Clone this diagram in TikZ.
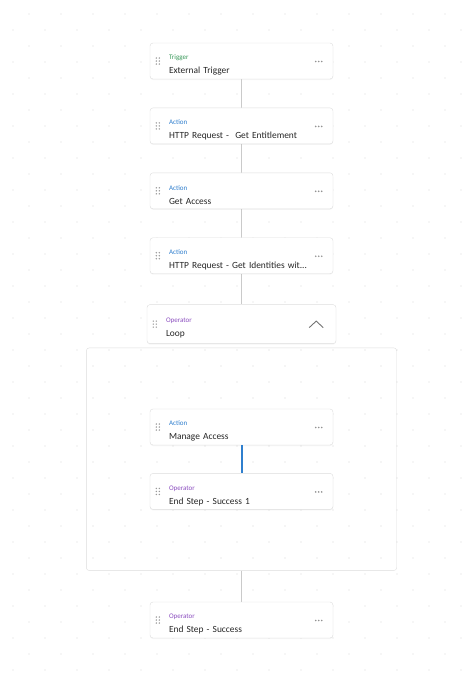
\documentclass[tikz,border=0pt]{standalone}
\usepackage{fontspec}
\setmainfont{Carlito}
\usetikzlibrary{positioning,fit,backgrounds,shadows}

\definecolor{trigcol}{HTML}{3A9A5B}
\definecolor{actcol}{HTML}{2F7FCE}
\definecolor{opcol}{HTML}{8C4FC0}
\definecolor{boxline}{HTML}{DDDDDD}
\definecolor{linkgray}{HTML}{CACACA}
\definecolor{griddot}{HTML}{D8D8D8}
\newcommand{\steptype}[2]{\rule{0pt}{13pt}{\fontsize{7}{7}\selectfont\color{#1}#2}}

\begin{document}
\begin{tikzpicture}[x=1pt, y=-1pt,
  stepbox/.style={draw=boxline, fill=white, rounded corners=3pt,
    minimum width=183pt, minimum height=36pt, text width=145pt,
    inner xsep=19pt, inner ysep=1pt, align=left,
    font=\fontsize{9.4}{14}\selectfont, text=black!85,
    drop shadow={shadow xshift=0pt, shadow yshift=-1pt, opacity=0.08}},
  link/.style={draw=linkgray, line width=1.6pt},
  activelink/.style={draw=actcol, line width=2pt},
]
\useasboundingbox (0,0) rectangle (463,678);

% dotted canvas
\foreach \r in {0,...,41}{
  \pgfmathsetmacro{\off}{mod(\r,2)==0 ? 29 : 13}
  \foreach \c in {0,...,14}
    \fill[griddot] (\off+32*\c, 14+16*\r) circle (0.7);
}

% steps
\node[stepbox] (trig) at (241.5,61)
  {\steptype{trigcol}{Trigger}\\External Trigger};
\node[stepbox, below=28.5pt of trig] (getent)
  {\steptype{actcol}{Action}\\HTTP Request - \ Get Entitlement};
\node[stepbox, below=28.5pt of getent] (getacc)
  {\steptype{actcol}{Action}\\Get Access};
\node[stepbox, below=28.5pt of getacc] (getid)
  {\steptype{actcol}{Action}\\HTTP Request - Get Identities wit...};
\node[stepbox, below=30.5pt of getid, minimum width=189pt, minimum height=39pt,
  text width=151pt] (loop)
  {\steptype{opcol}{Operator}\\Loop};

\node[stepbox, below=65pt of loop] (manage)
  {\steptype{actcol}{Action}\\Manage Access};
\node[stepbox, below=28pt of manage] (endone)
  {\steptype{opcol}{Operator}\\End Step - Success 1};

\begin{scope}[on background layer]
\node[draw=boxline, fill=white, rounded corners=3pt, inner xsep=63.5pt,
  inner ysep=61pt, fit=(manage)(endone)] (loopbody) {};
\end{scope}

\node[stepbox, below=31pt of loopbody] (endall)
  {\steptype{opcol}{Operator}\\End Step - Success};

% connectors
\begin{scope}[on background layer]
\draw[link] (trig) -- (getent);
\draw[link] (getent) -- (getacc);
\draw[link] (getacc) -- (getid);
\draw[link] (getid) -- (loop);
\draw[link] (loopbody) -- (endall);
\end{scope}
\draw[activelink] (manage.south) -- (endone.north);

% handles and menus
\foreach \n in {trig,getent,getacc,getid,loop,manage,endone,endall}{
  \foreach \dy in {-3,0,3}
    \fill[gray!80] ([xshift=6.5pt,yshift=\dy pt]\n.west) circle (0.8)
                   ([xshift=9.5pt,yshift=\dy pt]\n.west) circle (0.8);
}
\foreach \n in {trig,getent,getacc,getid,manage,endone,endall}{
  \foreach \dx in {-17.5,-14.5,-11.5}
    \fill[gray!85] ([xshift=\dx pt,yshift=-0.5pt]\n.east) circle (0.9);
}
\draw[gray!90!black, line width=0.9pt]
  ([xshift=-27pt,yshift=-3.5pt]loop.east) -- ([xshift=-20pt,yshift=3pt]loop.east)
  -- ([xshift=-13pt,yshift=-3.5pt]loop.east);
\end{tikzpicture}
\end{document}
